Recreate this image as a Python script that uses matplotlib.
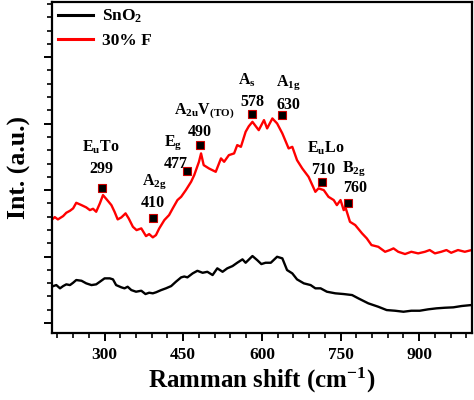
import matplotlib
matplotlib.use("Agg")
import matplotlib.pyplot as plt
from matplotlib.ticker import MultipleLocator, NullFormatter
from matplotlib.transforms import offset_copy

plt.rcParams['font.family'] = ['Liberation Serif', 'DejaVu Serif']
plt.rcParams['font.weight'] = 'bold'
plt.rcParams['mathtext.fontset'] = 'custom'
plt.rcParams['mathtext.rm'] = 'Liberation Serif:bold'
plt.rcParams['mathtext.bf'] = 'Liberation Serif:bold'
plt.rcParams['mathtext.it'] = 'Liberation Serif:bold:italic'

# SnO2 spectrum (wavenumber, intensity a.u.)
sno2_x = [200, 202, 208, 215, 221, 227, 234, 240, 246, 256, 265, 275, 284, 291, 300, 310, 316,
          322, 332, 338, 344, 351, 360, 370, 378, 385, 392, 398, 408, 417, 427, 436, 446, 452,
          458, 468, 477, 487, 496, 506, 515, 525, 534, 544, 553, 563, 569, 582, 591, 599, 607,
          617, 629, 639, 648, 658, 667, 680, 693, 702, 712, 724, 740, 756, 772, 784, 803, 822,
          838, 854, 870, 885, 901, 917, 933, 949, 965, 981, 1000]
sno2_y = [0.546, 0.556, 0.571, 0.522, 0.556, 0.582, 0.571, 0.606, 0.647, 0.636, 0.597, 0.571,
          0.582, 0.621, 0.672, 0.672, 0.657, 0.571, 0.537, 0.522, 0.546, 0.496, 0.471, 0.486,
          0.436, 0.456, 0.447, 0.462, 0.496, 0.522, 0.556, 0.621, 0.687, 0.700, 0.687, 0.747,
          0.786, 0.756, 0.771, 0.722, 0.823, 0.771, 0.823, 0.857, 0.907, 0.958, 0.907, 1.008,
          0.947, 0.887, 0.907, 0.907, 0.997, 0.973, 0.797, 0.747, 0.657, 0.597, 0.571, 0.522,
          0.522, 0.471, 0.447, 0.436, 0.421, 0.371, 0.296, 0.245, 0.195, 0.185, 0.170, 0.185,
          0.185, 0.206, 0.221, 0.230, 0.236, 0.256, 0.271]

# 30% F spectrum
f30_x = [200, 205, 211, 221, 227, 234, 240, 246, 256, 265, 272, 278, 284, 291, 297, 304, 313,
         319, 325, 332, 340, 346, 354, 361, 370, 379, 385, 392, 398, 404, 414, 423, 430, 439,
         446, 455, 465, 471, 480, 484, 489, 499, 512, 522, 528, 537, 547, 553, 560, 569, 575,
         582, 594, 604, 610, 620, 629, 639, 651, 658, 667, 677, 689, 702, 708, 718, 727, 737,
         743, 750, 756, 760, 768, 778, 791, 800, 809, 822, 835, 844, 851, 860, 873, 885, 898,
         911, 920, 930, 942, 952, 961, 974, 987, 1000]
f30_y = [1.559, 1.594, 1.559, 1.609, 1.659, 1.689, 1.725, 1.809, 1.774, 1.740, 1.699, 1.719,
         1.674, 1.800, 1.925, 1.860, 1.774, 1.674, 1.559, 1.589, 1.650, 1.574, 1.448, 1.398,
         1.424, 1.308, 1.338, 1.289, 1.323, 1.420, 1.549, 1.624, 1.725, 1.850, 1.899, 2.000,
         2.125, 2.226, 2.426, 2.552, 2.376, 2.326, 2.275, 2.477, 2.426, 2.526, 2.552, 2.677,
         2.651, 2.877, 2.960, 3.027, 2.902, 3.053, 2.928, 3.078, 3.003, 2.853, 2.627, 2.651,
         2.451, 2.326, 2.200, 1.974, 2.026, 2.000, 1.899, 1.850, 1.774, 1.850, 1.699, 1.725,
         1.523, 1.474, 1.349, 1.274, 1.173, 1.147, 1.072, 1.098, 1.123, 1.072, 1.038, 1.072,
         1.048, 1.072, 1.098, 1.048, 1.072, 1.098, 1.057, 1.098, 1.072, 1.098]

# Assigned Raman modes (marker position)
mode_x = [296, 393, 458, 482, 581, 638, 714, 765]
mode_y = [2.03, 1.58, 2.29, 2.68, 3.14, 3.13, 2.12, 1.80]
mode_names = [r'$\mathrm{E_u}$To', r'$\mathrm{A_{2g}}$', r'$\mathrm{E_g}$',
              r'$\mathrm{A_{2u}V_{(TO)}}$', r'$\mathrm{A_s}$', r'$\mathrm{A_{1g}}$',
              r'$\mathrm{E_u}$Lo', r'$\mathrm{B_{2g}}$']
mode_nums = ['299', '410', '477', '490', '578', '630', '710', '760']

series_labels = [r'SnO$_\mathrm{2}$', '30% F']

fig = plt.figure(figsize=(4.74, 4.0), dpi=100)
ax = fig.add_axes([0.110, 0.1675, 0.885, 0.8275])

ax.plot(sno2_x, sno2_y, color='black', lw=1.7, label=series_labels[0])
ax.plot(f30_x, f30_y, color='#ff0000', lw=1.7, label=series_labels[1])
ax.plot(mode_x, mode_y, ls='none', marker='s', ms=6, mfc='black', mec='#cc0000', mew=0.8)

# label offsets in pixels: (name dx, name dy, num dx, num dy, num ha)
offs = [(-2, 41, -1, 19, 'center'),
        (1, 36, -1, 15, 'center'),
        (-14, 28, 0, 7, 'right'),
        (4, 33, 0, 13, 'center'),
        (-5, 34, 0, 12, 'center'),
        (7, 32, 7, 10, 'center'),
        (4, 34, 2, 12, 'center'),
        (6, 35, 7, 15, 'center')]
for mx, my, nm, num, (ndx, ndy, vdx, vdy, ha) in zip(mode_x, mode_y, mode_names, mode_nums, offs):
    t1 = offset_copy(ax.transData, fig=fig, x=ndx, y=ndy, units='dots')
    t2 = offset_copy(ax.transData, fig=fig, x=vdx, y=vdy, units='dots')
    ax.text(mx, my, nm, transform=t1, ha='center', va='center', fontsize=11.5, fontweight='bold')
    ax.text(mx, my, num, transform=t2, ha=ha, va='center', fontsize=11.5, fontweight='bold')

ax.set_xlim(200, 1000)
ax.set_ylim(-0.15, 4.83)
ax.xaxis.set_major_locator(MultipleLocator(150))
ax.xaxis.set_minor_locator(MultipleLocator(30))
ax.yaxis.set_major_locator(MultipleLocator(1))
ax.yaxis.set_minor_locator(MultipleLocator(0.2))
ax.yaxis.set_major_formatter(NullFormatter())
ax.tick_params(which='major', direction='out', length=6, width=1.4, labelsize=12.5)
ax.tick_params(which='minor', direction='out', length=3.5, width=1.2)
ax.tick_params(axis='x', pad=4)
for s in ax.spines.values():
    s.set_linewidth(1.6)

ax.set_xlabel(r'Ramman shift (cm$^{\mathrm{-1}}$)', fontsize=18, fontweight='bold', labelpad=2)
ax.set_ylabel('Int. (a.u.)', fontsize=18.5, fontweight='bold', labelpad=6)

leg = ax.legend(loc='upper left', frameon=False, fontsize=12.5, handlelength=2.0,
                borderaxespad=0.05, handletextpad=0.5, labelspacing=0.45,
                borderpad=0.3)
for line in leg.get_lines():
    line.set_linewidth(2.2)
for txt in leg.get_texts():
    txt.set_fontweight('bold')

fig.savefig('out.png', dpi=100)
